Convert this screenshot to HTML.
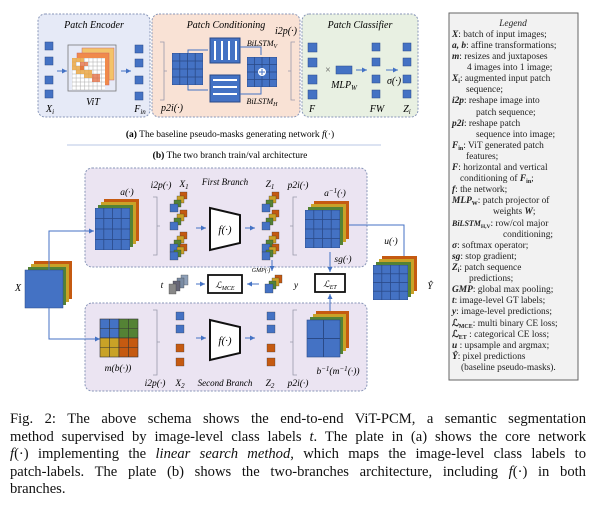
<!DOCTYPE html>
<html><head><meta charset="utf-8"><style>
body{margin:0;background:#fff;width:600px;height:513px;overflow:hidden;position:relative}
svg{position:absolute;left:0;top:0}
text{font-family:"Liberation Serif",serif}
.cap{position:absolute;left:10px;top:411px;width:576px;font:14.6px/17.5px "Liberation Serif",serif;color:#111}
.cap div{text-align:justify;text-align-last:justify;white-space:nowrap}
.cap div.l{text-align-last:left}
</style></head><body>
<svg width="600" height="513" viewBox="0 0 600 513">
<defs>
<marker id="ar" markerWidth="6" markerHeight="6" refX="5" refY="3" orient="auto"><path d="M0,0.5 L5,3 L0,5.5z" fill="#4472c4"/></marker>
<pattern id="ga" x="95" y="208" width="8.75" height="10.5" patternUnits="userSpaceOnUse"><rect width="8.75" height="10.5" fill="#4472c4" stroke="#2a4a88" stroke-width="0.8"/></pattern>
<pattern id="gb" x="305" y="210" width="8.75" height="9.5" patternUnits="userSpaceOnUse"><rect width="8.75" height="9.5" fill="#4472c4" stroke="#2a4a88" stroke-width="0.8"/></pattern>
<pattern id="gc" x="373" y="265" width="8.75" height="8.75" patternUnits="userSpaceOnUse"><rect width="8.75" height="8.75" fill="#4472c4" stroke="#2a4a88" stroke-width="0.8"/></pattern>
<pattern id="gd" x="172" y="53" width="7.75" height="8" patternUnits="userSpaceOnUse"><rect width="7.75" height="8" fill="#4472c4" stroke="#2a4a88" stroke-width="0.8"/></pattern>
<pattern id="ge" x="247" y="57" width="7.5" height="7.5" patternUnits="userSpaceOnUse"><rect width="7.5" height="7.5" fill="#4472c4" stroke="#2a4a88" stroke-width="0.8"/></pattern>
<pattern id="gv" x="72" y="58" width="4.2" height="4" patternUnits="userSpaceOnUse"><rect width="4.2" height="4" fill="#fff" stroke="#999" stroke-width="0.4"/></pattern>
</defs>

<rect x="38" y="14" width="112" height="103" rx="7" fill="#e6eaf7" stroke="#8896b8" stroke-dasharray="2,1.5"/>
<rect x="152" y="14" width="148" height="103" rx="7" fill="#f9e2d5" stroke="#8896b8" stroke-dasharray="2,1.5"/>
<rect x="302" y="14" width="116" height="103" rx="7" fill="#e8f0e2" stroke="#8896b8" stroke-dasharray="2,1.5"/>
<g font-style="italic" font-size="10" text-anchor="middle">
<text x="94" y="28">Patch Encoder</text><text x="226" y="28">Patch Conditioning</text><text x="360" y="28">Patch Classifier</text></g>
<g fill="#4472c4" stroke="#2a4a88" stroke-width="0.5">
<rect x="45" y="42" width="8" height="8"/><rect x="45" y="57" width="8" height="8"/><rect x="45" y="76" width="8" height="8"/><rect x="45" y="90" width="8" height="8"/>
<rect x="135" y="45" width="8" height="8"/><rect x="135" y="59" width="8" height="8"/><rect x="135" y="76" width="8" height="8"/><rect x="135" y="92" width="8" height="8"/>
<rect x="308" y="43" width="9" height="9"/><rect x="308" y="58" width="9" height="9"/><rect x="308" y="75" width="9" height="9"/><rect x="308" y="90" width="9" height="9"/>
<rect x="336" y="66" width="16" height="8"/>
<rect x="372" y="43" width="8" height="8"/><rect x="372" y="58" width="8" height="8"/><rect x="372" y="75" width="8" height="8"/><rect x="372" y="90" width="8" height="8"/>
<rect x="403" y="43" width="8" height="8"/><rect x="403" y="58" width="8" height="8"/><rect x="403" y="75" width="8" height="8"/><rect x="403" y="90" width="8" height="8"/>
</g>
<g stroke="#4472c4" stroke-width="1" marker-end="url(#ar)"><line x1="57" y1="71" x2="67" y2="71"/><line x1="121" y1="71" x2="131" y2="71"/><line x1="356" y1="70" x2="367" y2="70"/><line x1="386" y1="70" x2="398" y2="70"/></g>
<rect x="68" y="45" width="48" height="46" fill="none" stroke="#777" stroke-width="0.8"/>
<rect x="82" y="48" width="32" height="32" fill="#f3c36a" stroke="#c66" stroke-width="0.5"/>
<rect x="77" y="53" width="32" height="32" fill="#f08a4b" stroke="#c66" stroke-width="0.5"/>
<rect x="72" y="58" width="33" height="32" fill="url(#gv)"/>
<path d="M72,58 h12 v4 h-8 v8 h-4z M76,66 h8 v8 h-8z M84,70 h8 v8 h-8z" fill="#e8a13a" opacity="0.8"/>
<path d="M80,62 h8 v4 h-4 v4 h-4z M92,74 h8 v8 h-8z" fill="#e06030" opacity="0.7"/>
<g font-size="10" font-style="italic" text-anchor="middle"><text x="50" y="112">X<tspan font-size="7" dy="2">i</tspan></text><text x="93" y="105">ViT</text><text x="140" y="112">F<tspan font-size="7" dy="2">in</tspan></text>
<text x="312" y="112">F</text><text x="377" y="112">FW</text><text x="407" y="112">Z<tspan font-size="7" dy="2">i</tspan></text>
<text x="344" y="88">MLP<tspan font-size="7" dy="2">W</tspan></text><text x="394" y="84">σ(·)</text><text x="328" y="73" font-style="normal" fill="#555">×</text>
<text x="172" y="111">p2i(·)</text><text x="286" y="34">i2p(·)</text>
<text x="262" y="46" font-size="8">BiLSTM<tspan font-size="6" dy="2">V</tspan></text><text x="262" y="104" font-size="8">BiLSTM<tspan font-size="6" dy="2">H</tspan></text></g>
<path d="M160,42 h4 v58 h-4 M164,71 h3" fill="none" stroke="#99a" stroke-width="0.8"/>
<path d="M295,42 h-4 v58 h4 M291,71 h-3" fill="none" stroke="#99a" stroke-width="0.8"/>
<rect x="172" y="53" width="31" height="32" fill="url(#gd)"/>
<rect x="210" y="38" width="30" height="25" fill="#4472c4" stroke="#2a4a88"/>
<rect x="210" y="75" width="30" height="27" fill="#4472c4" stroke="#2a4a88"/>
<g stroke="#fff" stroke-width="2"><line x1="215" y1="41" x2="215" y2="60"/><line x1="222" y1="41" x2="222" y2="60"/><line x1="229" y1="41" x2="229" y2="60"/><line x1="236" y1="41" x2="236" y2="60"/>
<line x1="213" y1="80" x2="237" y2="80"/><line x1="213" y1="87" x2="237" y2="87"/><line x1="213" y1="94" x2="237" y2="94"/></g>
<g stroke="#4472c4" fill="none"><path d="M188,53 v-3 h20"/><path d="M188,85 v5 h20"/><path d="M240,47 h21 v8"/><path d="M240,94 h21 v-7"/></g>
<rect x="247" y="57" width="30" height="30" fill="url(#ge)"/>
<circle cx="262" cy="72" r="4" fill="#fff"/><path d="M262,69 v6 M259,72 h6" stroke="#4472c4"/>
<text x="230" y="137" font-size="9.5" text-anchor="middle"><tspan font-weight="bold">(a)</tspan> The baseline pseudo-masks generating network <tspan font-style="italic">f</tspan>(·)</text>
<line x1="67" y1="145" x2="381" y2="145" stroke="#c8d2ea" stroke-width="1.2"/>
<text x="230" y="158" font-size="9.5" text-anchor="middle"><tspan font-weight="bold">(b)</tspan> The two branch train/val architecture</text>

<rect x="85" y="168" width="282" height="99" rx="7" fill="#ebe4f2" stroke="#8896b8" stroke-dasharray="2,1.5"/>
<rect x="85" y="303" width="282" height="88" rx="7" fill="#ebe4f2" stroke="#8896b8" stroke-dasharray="2,1.5"/>
<g font-style="italic" font-size="9" text-anchor="middle"><text x="225" y="185">First Branch</text><text x="225" y="386">Second Branch</text></g>
<rect x="34" y="261" width="38" height="38" fill="#c55a11"/><rect x="31" y="264" width="38" height="38" fill="#c9a227"/><rect x="28" y="267" width="38" height="38" fill="#548235"/><rect x="25" y="270" width="38" height="38" fill="#4472c4" stroke="#2a4a88" stroke-width="0.5"/>
<text x="15" y="291" font-size="10" font-style="italic">X</text>
<g stroke="#4472c4" fill="none" marker-end="url(#ar)"><path d="M49,270 V231 H94"/><path d="M49,308 V339 H100"/><path d="M345,225 H404 V261"/><line x1="330" y1="252" x2="330" y2="272"/><line x1="272" y1="260" x2="272" y2="271"/><line x1="259" y1="284" x2="247" y2="284"/><line x1="196" y1="284" x2="205" y2="284"/><line x1="330" y1="318" x2="330" y2="294"/>
<line x1="196" y1="228" x2="206" y2="228"/><line x1="245" y1="228" x2="255" y2="228"/><line x1="196" y1="338" x2="206" y2="338"/><line x1="245" y1="338" x2="255" y2="338"/></g>
<rect x="104" y="199" width="35" height="42" fill="#c55a11"/><rect x="101" y="202" width="35" height="42" fill="#c9a227"/><rect x="98" y="205" width="35" height="42" fill="#548235"/><rect x="95" y="208" width="35" height="42" fill="url(#ga)"/>
<rect x="314" y="201" width="35" height="38" fill="#c55a11"/><rect x="311" y="204" width="35" height="38" fill="#c9a227"/><rect x="308" y="207" width="35" height="38" fill="#548235"/><rect x="305" y="210" width="35" height="38" fill="url(#gb)"/>
<rect x="382" y="256" width="35" height="35" fill="#c55a11"/><rect x="379" y="259" width="35" height="35" fill="#c9a227"/><rect x="376" y="262" width="35" height="35" fill="#548235"/><rect x="373" y="265" width="35" height="35" fill="url(#gc)"/>
<g font-size="9.5" font-style="italic" text-anchor="middle">
<text x="127" y="195">a(·)</text><text x="161" y="188">i2p(·)</text><text x="184" y="187">X<tspan font-size="7" dy="2">1</tspan></text>
<text x="270" y="187">Z<tspan font-size="7" dy="2">1</tspan></text><text x="298" y="188">p2i(·)</text><text x="335" y="196">a<tspan font-size="7" dy="-3">−1</tspan><tspan dy="3">(·)</tspan></text>
<text x="391" y="244">u(·)</text><text x="343" y="262">sg(·)</text><text x="430" y="289">Ŷ</text>
<text x="162" y="288">t</text><text x="296" y="288">y</text><text x="261" y="272" font-size="6">GMP(·)</text>
<text x="118" y="371">m(b(·))</text><text x="155" y="386">i2p(·)</text><text x="180" y="386">X<tspan font-size="7" dy="2">2</tspan></text>
<text x="270" y="386">Z<tspan font-size="7" dy="2">2</tspan></text><text x="298" y="386">p2i(·)</text><text x="338" y="374">b<tspan font-size="7" dy="-3">−1</tspan><tspan dy="3">(m</tspan><tspan font-size="7" dy="-3">−1</tspan><tspan dy="3">(·))</tspan></text>
</g>
<g fill="none" stroke="#99a" stroke-width="0.8"><path d="M153,197 h4 v58 h-4 M157,226 h3"/><path d="M297,197 h-4 v58 h4 M293,226 h-3"/><path d="M153,310 h4 v65 h-4 M157,342 h3"/><path d="M297,310 h-4 v65 h4 M293,342 h-3"/></g>
<g stroke="#333" stroke-width="0.3">
<rect x="180" y="192" width="7" height="7" fill="#c55a11"/><rect x="177" y="196" width="7" height="7" fill="#c9a227"/><rect x="174" y="200" width="7" height="7" fill="#548235"/><rect x="170" y="204" width="8" height="8" fill="#4472c4"/>
<rect x="180" y="210" width="7" height="7" fill="#c55a11"/><rect x="177" y="214" width="7" height="7" fill="#c9a227"/><rect x="174" y="218" width="7" height="7" fill="#548235"/><rect x="170" y="222" width="8" height="8" fill="#4472c4"/>
<rect x="180" y="232" width="7" height="7" fill="#c55a11"/><rect x="177" y="236" width="7" height="7" fill="#c9a227"/><rect x="174" y="240" width="7" height="7" fill="#548235"/><rect x="170" y="244" width="8" height="8" fill="#4472c4"/>
<rect x="180" y="244" width="7" height="7" fill="#c55a11"/><rect x="177" y="247" width="7" height="7" fill="#c9a227"/><rect x="174" y="250" width="7" height="7" fill="#548235"/><rect x="170" y="252" width="8" height="8" fill="#4472c4"/>
<rect x="272" y="192" width="7" height="7" fill="#c55a11"/><rect x="269" y="196" width="7" height="7" fill="#c9a227"/><rect x="266" y="200" width="7" height="7" fill="#548235"/><rect x="262" y="204" width="8" height="8" fill="#4472c4"/>
<rect x="272" y="210" width="7" height="7" fill="#c55a11"/><rect x="269" y="214" width="7" height="7" fill="#c9a227"/><rect x="266" y="218" width="7" height="7" fill="#548235"/><rect x="262" y="222" width="8" height="8" fill="#4472c4"/>
<rect x="272" y="232" width="7" height="7" fill="#c55a11"/><rect x="269" y="236" width="7" height="7" fill="#c9a227"/><rect x="266" y="240" width="7" height="7" fill="#548235"/><rect x="262" y="244" width="8" height="8" fill="#4472c4"/>
<rect x="272" y="244" width="7" height="7" fill="#c55a11"/><rect x="269" y="247" width="7" height="7" fill="#c9a227"/><rect x="266" y="250" width="7" height="7" fill="#548235"/><rect x="262" y="252" width="8" height="8" fill="#4472c4"/>
<rect x="181" y="275" width="7" height="10" fill="#8fa0b8"/><rect x="177" y="278" width="7" height="10" fill="#7a8ba3"/><rect x="173" y="281" width="7" height="10" fill="#667"/><rect x="169" y="284" width="7" height="10" fill="#888"/>
<rect x="275" y="275" width="7" height="8" fill="#c55a11"/><rect x="272" y="278" width="7" height="8" fill="#c9a227"/><rect x="269" y="281" width="7" height="8" fill="#548235"/><rect x="265" y="284" width="8" height="9" fill="#4472c4"/>
<rect x="176" y="312" width="8" height="8" fill="#4472c4"/><rect x="176" y="325" width="8" height="8" fill="#4472c4"/><rect x="176" y="344" width="8" height="8" fill="#c55a11"/><rect x="176" y="358" width="8" height="8" fill="#c55a11"/>
<rect x="267" y="312" width="8" height="8" fill="#4472c4"/><rect x="267" y="325" width="8" height="8" fill="#4472c4"/><rect x="267" y="344" width="8" height="8" fill="#c55a11"/><rect x="267" y="358" width="8" height="8" fill="#c55a11"/>
</g>
<g fill="#fff" stroke="#111" stroke-width="2"><path d="M210,208 L240,215 L240,243 L210,250z"/><path d="M210,320 L240,327 L240,353 L210,360z"/>
<rect x="208" y="275" width="34" height="18" stroke-width="1.8"/><rect x="315" y="274" width="30" height="18" stroke-width="1.8"/></g>
<g font-size="11" font-style="italic" text-anchor="middle"><text x="225" y="233">f(·)</text><text x="225" y="344">f(·)</text>
<text x="225" y="288" font-size="9">ℒ<tspan font-size="6" dy="2">MCE</tspan></text><text x="330" y="287" font-size="9">ℒ<tspan font-size="6" dy="2">ET</tspan></text></g>
<g stroke="#333" stroke-width="0.6"><rect x="100" y="319" width="19" height="19" fill="#4472c4"/><rect x="119" y="319" width="19" height="19" fill="#548235"/><rect x="100" y="338" width="19" height="19" fill="#c9a227"/><rect x="119" y="338" width="19" height="19" fill="#c55a11"/>
<path d="M109.5,319v38 M128.5,319v38 M100,328.5h38 M100,347.5h38" fill="none"/></g>
<rect x="316" y="311" width="33" height="37" fill="#c55a11"/><rect x="313" y="314" width="33" height="37" fill="#c9a227"/><rect x="310" y="317" width="33" height="37" fill="#548235"/><rect x="307" y="320" width="33" height="37" fill="#4472c4" stroke="#2a4a88" stroke-width="0.6"/><path d="M323.5,320v37 M307,338.5h33" stroke="#2a4a88"/>

<rect x="449" y="13" width="129" height="367" fill="#f2f2f2" stroke="#666"/>
<g font-size="9.4" fill="#222">
<text x="513" y="26" text-anchor="middle" font-style="italic">Legend</text>
<text x="452" y="37"><tspan font-weight="bold" font-style="italic">X</tspan>: batch of input images;</text>
<text x="452" y="48"><tspan font-weight="bold" font-style="italic">a, b</tspan>: affine transformations;</text>
<text x="452" y="59"><tspan font-weight="bold" font-style="italic">m</tspan>: resizes and juxtaposes</text>
<text x="467" y="70">4 images into 1 image;</text>
<text x="452" y="81"><tspan font-weight="bold" font-style="italic">X</tspan><tspan font-size="6" font-weight="bold" dy="2">i</tspan><tspan dy="-2">: augmented input patch</tspan></text>
<text x="466" y="92">sequence;</text>
<text x="452" y="103"><tspan font-weight="bold" font-style="italic">i2p</tspan>: reshape image into</text>
<text x="476" y="115">patch sequence;</text>
<text x="452" y="126"><tspan font-weight="bold" font-style="italic">p2i</tspan>: reshape patch</text>
<text x="476" y="137">sequence into image;</text>
<text x="452" y="148"><tspan font-weight="bold" font-style="italic">F</tspan><tspan font-size="6" font-weight="bold" dy="2">in</tspan><tspan dy="-2">: ViT generated patch</tspan></text>
<text x="466" y="159">features;</text>
<text x="452" y="170"><tspan font-weight="bold" font-style="italic">F</tspan>: horizontal and vertical</text>
<text x="460" y="181">conditioning of <tspan font-weight="bold" font-style="italic">F</tspan><tspan font-size="6" font-weight="bold" dy="2">in</tspan><tspan dy="-2">;</tspan></text>
<text x="452" y="192"><tspan font-weight="bold" font-style="italic">f</tspan>: the network;</text>
<text x="452" y="203"><tspan font-weight="bold" font-style="italic">MLP</tspan><tspan font-size="6" font-weight="bold" dy="2">W</tspan><tspan dy="-2">: patch projector of</tspan></text>
<text x="493" y="214">weights <tspan font-weight="bold" font-style="italic">W</tspan>;</text>
<text x="452" y="226"><tspan font-weight="bold" font-style="italic" font-size="8">BiLSTM</tspan><tspan font-size="5.5" font-weight="bold" dy="2">H,V</tspan><tspan dy="-2">: row/col major</tspan></text>
<text x="503" y="237">conditioning;</text>
<text x="452" y="248"><tspan font-weight="bold" font-style="italic">σ</tspan>: softmax operator;</text>
<text x="452" y="259"><tspan font-weight="bold" font-style="italic">sg</tspan>: stop gradient;</text>
<text x="452" y="270"><tspan font-weight="bold" font-style="italic">Z</tspan><tspan font-size="6" font-weight="bold" dy="2">i</tspan><tspan dy="-2">: patch sequence</tspan></text>
<text x="469" y="281">predictions;</text>
<text x="452" y="292"><tspan font-weight="bold" font-style="italic">GMP</tspan>: global max pooling;</text>
<text x="452" y="303"><tspan font-weight="bold" font-style="italic">t</tspan>: image-level GT labels;</text>
<text x="452" y="314"><tspan font-weight="bold" font-style="italic">y</tspan>: image-level predictions;</text>
<text x="452" y="326"><tspan font-weight="bold">ℒ</tspan><tspan font-size="6" font-weight="bold" dy="2">MCE</tspan><tspan dy="-2">: multi binary CE loss;</tspan></text>
<text x="452" y="337"><tspan font-weight="bold">ℒ</tspan><tspan font-size="6" font-weight="bold" dy="2">ET</tspan><tspan dy="-2"> : categorical CE loss;</tspan></text>
<text x="452" y="348"><tspan font-weight="bold" font-style="italic">u</tspan> : upsample and argmax;</text>
<text x="452" y="359"><tspan font-weight="bold" font-style="italic">Ŷ</tspan>: pixel predictions</text>
<text x="461" y="370">(baseline pseudo-masks).</text>
</g>
</svg>
<div class="cap">
<div>Fig. 2: The above schema shows the end-to-end ViT-PCM, a semantic segmentation</div>
<div>method supervised by image-level class labels <i>t</i>. The plate in (a) shows the core network</div>
<div><i>f</i>(·) implementing the <i>linear search method</i>, which maps the image-level class labels to</div>
<div>patch-labels. The plate (b) shows the two-branches architecture, including <i>f</i>(·) in both</div>
<div class="l">branches.</div>
</div>
</body></html>
